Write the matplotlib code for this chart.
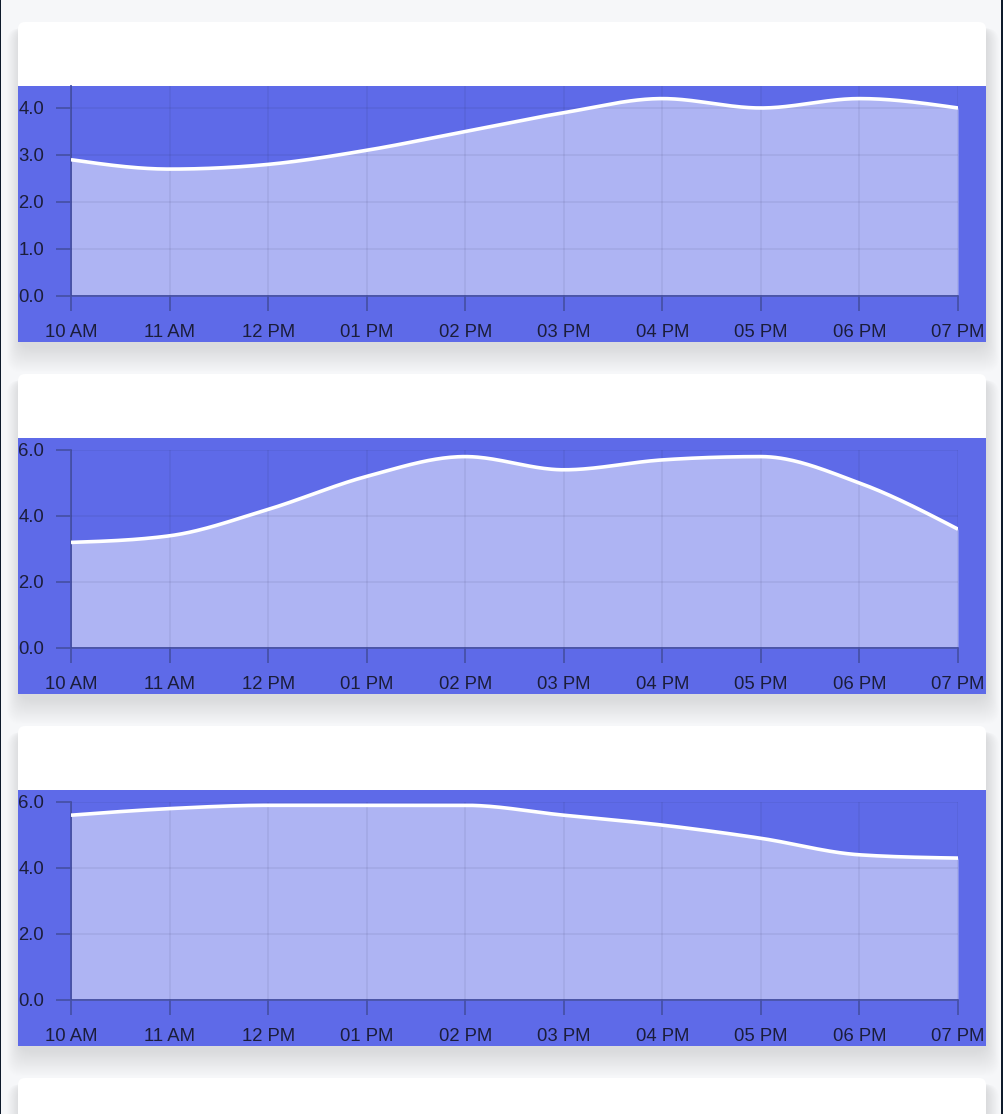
import numpy as np
import matplotlib
matplotlib.use("Agg")
import matplotlib.pyplot as plt
from matplotlib.patches import FancyBboxPatch, Rectangle

plt.rcParams['font.family'] = ['Liberation Sans', 'DejaVu Sans']

"""
data
"""

hours = ["10 AM", "11 AM", "12 PM", "01 PM", "02 PM", "03 PM", "04 PM", "05 PM", "06 PM", "07 PM"]

series_1 = [2.9, 2.7, 2.8, 3.1, 3.5, 3.9, 4.2, 4.0, 4.2, 4.0]
series_2 = [3.2, 3.4, 4.2, 5.2, 5.8, 5.4, 5.7, 5.8, 5.0, 3.6]
series_3 = [5.6, 5.8, 5.9, 5.9, 5.9, 5.6, 5.3, 4.9, 4.4, 4.3]

yticks_1 = [0, 1, 2, 3, 4]
yticks_23 = [0, 2, 4, 6]

"""
helpers
"""

W, H = 1004, 1114
PAGE = '#f6f7f9'
BLUE = '#5e6ae8'
TEXT = '#1b1d3a'
AXC = '#4651a8'
GRIDC = '#1f2142'


def monotone_curve(x, y, n=40):
    "d3 curveMonotoneX style smoothing, only for drawing the line"
    x = np.asarray(x, float)
    y = np.asarray(y, float)
    h = np.diff(x)
    s = np.diff(y) / h
    t = np.zeros(len(x))
    for i in range(1, len(x) - 1):
        p = (s[i - 1] * h[i] + s[i] * h[i - 1]) / (h[i - 1] + h[i])
        t[i] = (np.sign(s[i - 1]) + np.sign(s[i])) * min(abs(s[i - 1]), abs(s[i]), 0.5 * abs(p))
    t[0] = (3 * s[0] - t[1]) / 2
    t[-1] = (3 * s[-1] - t[-2]) / 2
    xs, ys = [], []
    for i in range(len(x) - 1):
        u = np.linspace(0, 1, n, endpoint=(i == len(x) - 2))
        h00 = 2 * u**3 - 3 * u**2 + 1
        h10 = u**3 - 2 * u**2 + u
        h01 = -2 * u**3 + 3 * u**2
        h11 = u**3 - u**2
        xs.append(x[i] + u * h[i])
        ys.append(h00 * y[i] + h10 * h[i] * t[i] + h01 * y[i + 1] + h11 * h[i] * t[i + 1])
    return np.concatenate(xs), np.concatenate(ys)


def card(bg, top, bottom, header=64):
    # soft shadow, a stack of very faint boxes
    for i in range(28):
        e = i * 1.0
        bg.add_patch(FancyBboxPatch((18 - e * 0.45 + 1, top + 6), 968 + e * 0.9, bottom - top + e * 0.9,
                                    boxstyle="round,pad=0,rounding_size=14", lw=0,
                                    fc='#1a1f36', alpha=0.0045, zorder=1))
    bg.add_patch(FancyBboxPatch((18, top), 968, bottom - top, boxstyle="round,pad=0,rounding_size=7",
                                lw=0, fc='white', zorder=2))
    if bottom < H:
        bg.add_patch(Rectangle((18, top + header), 968, bottom - top - header, lw=0, fc=BLUE, zorder=3))


def px_axes(fig, left, top, right, bottom):
    return fig.add_axes([left / W, 1 - bottom / H, (right - left) / W, (bottom - top) / H])


fig = plt.figure(figsize=(W / 100, H / 100), dpi=100, facecolor=PAGE)

bg = fig.add_axes([0, 0, 1, 1], zorder=-5)
bg.set_xlim(0, W)
bg.set_ylim(H, 0)
bg.axis('off')

# window border
bg.add_patch(Rectangle((0, 0), 1.5, H, fc='#0e1a2b', lw=0, zorder=5))
bg.add_patch(Rectangle((1001, 0), 3, H, fc='#0e1a2b', lw=0, zorder=5))

for k in range(3):
    card(bg, 22 + 352 * k, 342 + 352 * k)
card(bg, 1078, 1400)

"""
charts
"""

panels = [
    (series_1, yticks_1, 86, 4.468),
    (series_2, yticks_23, 450, 6.0),
    (series_3, yticks_23, 450 + 352, 6.0),
]

xs = np.arange(len(hours))

for k, (vals, yt, top, ymax) in enumerate(panels):
    zero = 296 + 352 * k
    ax = px_axes(fig, 71, top, 958, zero)
    ax.set_facecolor('none')
    cx, cy = monotone_curve(xs, vals)
    ax.fill_between(cx, 0, cy, color='white', alpha=0.5, lw=0, zorder=1)
    ax.plot(cx, cy, color='white', lw=2.6, zorder=3, solid_capstyle='butt')

    ax.set_xlim(0, len(hours) - 1)
    ax.set_ylim(0, ymax)
    ax.set_xticks(xs)
    ax.set_xticklabels(hours)
    ax.set_yticks(yt)
    ax.set_yticklabels(["%.1f" % v for v in yt])
    ax.grid(True, color=GRIDC, alpha=0.08, lw=1.2, zorder=2)
    ax.set_axisbelow(False)

    for side in ['top', 'right']:
        ax.spines[side].set_visible(False)
    for side in ['left', 'bottom']:
        ax.spines[side].set_color(AXC)
        ax.spines[side].set_linewidth(1.3)
        ax.spines[side].set_zorder(2.5)
    ax.tick_params(axis='both', color=AXC, length=11, width=1.3, labelsize=13.3, labelcolor=TEXT)
    ax.tick_params(axis='x', pad=9.5)
    ax.tick_params(axis='y', pad=8.5)

fig.savefig('out.png', dpi=100, facecolor=PAGE)
